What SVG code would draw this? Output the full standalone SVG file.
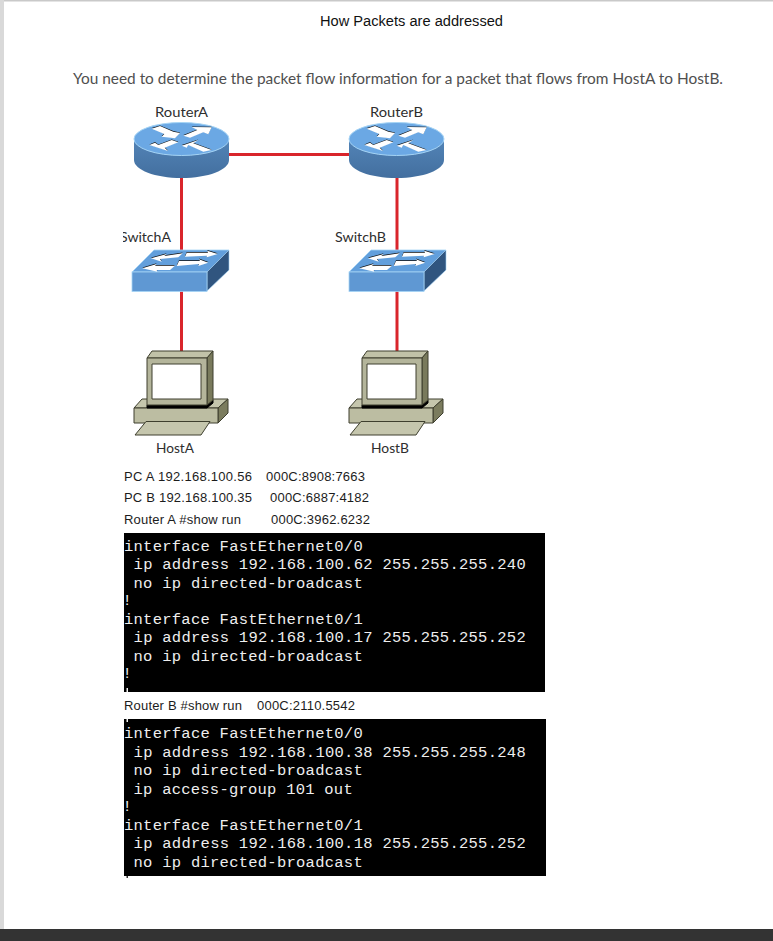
<svg xmlns="http://www.w3.org/2000/svg" xmlns:xlink="http://www.w3.org/1999/xlink" width="773" height="941" viewBox="0 0 773 941">
<style>
.ar{font-family:"Liberation Sans",Arial,sans-serif;font-size:13px;fill:#1c1c1c}
.lb{font-family:Lato,"Open Sans",sans-serif;font-size:13.5px;fill:#2e2e2e}
.mono{font-family:"Liberation Mono","Courier New",monospace;font-size:15.5px;fill:#eeeeee;white-space:pre;letter-spacing:.3px}
.link{stroke:#d9252b;stroke-width:3;fill:none}
.tick{fill:#f2f2f2}
.pc{stroke:#3e3f2e;stroke-width:1;stroke-linejoin:round}
</style>
<defs>
<linearGradient id="body" x1="0" x2="0" y1="0" y2="1"><stop offset="0" stop-color="#5283b6"/><stop offset="1" stop-color="#436f9f"/></linearGradient>
<clipPath id="clipSw"><rect x="123" y="220" width="70" height="30"/></clipPath>
<g id="rArrows">
<path d="M151.700 128.700L160 126 173.300 131.700 180 133 175 138.300 161.700 136.700 164.300 134Z"/>
<path d="M211.700 127.300L191.700 127 197.300 130 183.300 135.700 190 137.700 203.300 132.300 208.300 134.300Z"/>
<path d="M149.300 145L168 151 164.700 147.700 178.300 142.300 171.700 140 158.300 145 155 142.700Z"/>
<path d="M181.700 145.700L198.300 140 193.300 143.300 211.700 150 203.300 151.700 188.300 145 186.700 147.700Z"/>
</g>
<g id="sArrows">
<path d="M151 258.300L166.700 254 164.300 256 182.700 253.300 178.300 257.300 160 259 161.700 261.700Z"/>
<path d="M186.700 252.700H208L207.300 250.700 217.700 254 206.700 257.300V255.700L185 256.700Z"/>
<path d="M142.300 268.300L156.700 264 155 265.700H175L170 270H156.700L157.300 271.700Z"/>
<path d="M176.700 266L179 261H200L199 259.300 208.300 262.700 198.300 266 199 264Z"/>
</g>
<g id="routerIcon">
<path d="M134 140V160C134 170 155 178 181.500 178C208 178 229 170 229 160V140Z" fill="url(#body)"/>
<ellipse cx="181.500" cy="139" rx="47.500" ry="16.500" fill="#6ba8e4" stroke="#a5d4f5" stroke-width="1"/>
<use href="#rArrows" xlink:href="#rArrows" fill="#111" transform="translate(0 -.6)"/>
<use href="#rArrows" xlink:href="#rArrows" fill="#fff"/>
</g>
<g id="switchIcon">
<path d="M132 272L154 250H229L207 272Z" fill="#629fdc" stroke="#a5d4f5" stroke-width=".8"/>
<path d="M207 272L229 250V270L207 291Z" fill="#30557f" stroke="#a5d4f5" stroke-width=".6"/>
<rect x="132" y="272" width="75" height="19.500" fill="#5f98d3" stroke="#a5d4f5" stroke-width=".8"/>
<use href="#sArrows" xlink:href="#sArrows" fill="#111" transform="translate(0 -.7)"/>
<use href="#sArrows" xlink:href="#sArrows" fill="#fff"/>
</g>
<g id="pcIcon" class="pc">
<path d="M134 408L142 399H228L218 408Z" fill="#c5c6ad"/>
<path d="M218 408L228 399V413L218 423Z" fill="#7b7c5e"/>
<rect x="134" y="408" width="84" height="15" fill="#bcbda2"/>
<path d="M135 435L146 421.500H210L201 435Z" fill="#c5c6ad"/>
<path d="M147 405H207L213 400V403L207 408H147Z" fill="#000" stroke="#000"/>
<path d="M147 358L152 351H213L207 358Z" fill="#c1c2a8"/>
<path d="M207 358L213 351V400L207 405Z" fill="#797a5c"/>
<rect x="147" y="358" width="60" height="47" fill="#b4b59b"/>
<rect x="152" y="364" width="49" height="35" fill="#fff"/>
</g>
</defs>
<rect id="page" width="773" height="941" fill="#fff"/>
<rect x="0" y="0" width="773" height="1.500" fill="#c9c9c9"/>
<rect x="0" y="0" width="4" height="929" fill="#d9d9d9"/>
<rect x="0" y="929" width="773" height="12" fill="#333"/>
<text id="title" x="320" y="25.500" textLength="183" lengthAdjust="spacingAndGlyphs" style="font-family:'Liberation Sans',Arial,sans-serif;font-size:14px;fill:#111">How Packets are addressed</text>
<text id="question" x="73" y="84" textLength="650" lengthAdjust="spacingAndGlyphs" style="font-family:Lato,'Open Sans',sans-serif;font-size:16px;fill:#4f4f4f">You need to determine the packet flow information for a packet that flows from HostA to HostB.</text>
<g id="connectors">
<path class="link" d="M229 154.500H349"/>
<path class="link" d="M181.500 178V251"/>
<path class="link" d="M181.500 291V351"/>
<path class="link" d="M397 178V251"/>
<path class="link" d="M397 291V351"/>
</g>
<g id="RouterA"><use xlink:href="#routerIcon" href="#routerIcon"/><text class="lb" x="155" y="116.500" textLength="53" lengthAdjust="spacingAndGlyphs">RouterA</text></g>
<g id="RouterB"><use xlink:href="#routerIcon" href="#routerIcon" x="215"/><text class="lb" x="370" y="116.500" textLength="53" lengthAdjust="spacingAndGlyphs">RouterB</text></g>
<g id="SwitchA"><use xlink:href="#switchIcon" href="#switchIcon"/><g clip-path="url(#clipSw)"><text class="lb" x="120" y="242" textLength="51" lengthAdjust="spacingAndGlyphs">SwitchA</text></g></g>
<g id="SwitchB"><use xlink:href="#switchIcon" href="#switchIcon" x="217"/><text class="lb" x="335" y="242" textLength="51" lengthAdjust="spacingAndGlyphs">SwitchB</text></g>
<g id="HostA"><use xlink:href="#pcIcon" href="#pcIcon"/><text class="lb" x="156" y="452.500" textLength="38" lengthAdjust="spacingAndGlyphs">HostA</text></g>
<g id="HostB"><use xlink:href="#pcIcon" href="#pcIcon" x="215"/><text class="lb" x="371" y="452.500" textLength="38" lengthAdjust="spacingAndGlyphs">HostB</text></g>
<g id="notes">
<text class="ar" x="124" y="481" textLength="128">PC A 192.168.100.56</text><text class="ar" x="266" y="481" textLength="99">000C:8908:7663</text>
<text class="ar" x="124" y="502" textLength="128">PC B 192.168.100.35</text><text class="ar" x="270" y="502" textLength="99">000C:6887:4182</text>
<text class="ar" x="124" y="524" textLength="117">Router A #show run</text><text class="ar" x="271" y="524" textLength="99">000C:3962.6232</text>
<text class="ar" x="124" y="710" textLength="118">Router B #show run</text><text class="ar" x="257" y="710" textLength="98">000C:2110.5542</text>
</g>
<g id="configA">
<rect x="124" y="533" width="421" height="159" fill="#000"/>
<text class="mono" x="124" y="551" textLength="239">interface FastEthernet0/0</text>
<text class="mono" x="124" y="569" textLength="402"> ip address 192.168.100.62 255.255.255.240</text>
<text class="mono" x="124" y="588" textLength="239"> no ip directed-broadcast</text>
<text class="mono" x="122.500" y="605">!</text>
<text class="mono" x="124" y="624" textLength="239">interface FastEthernet0/1</text>
<text class="mono" x="124" y="642" textLength="402"> ip address 192.168.100.17 255.255.255.252</text>
<text class="mono" x="124" y="661" textLength="239"> no ip directed-broadcast</text>
<text class="mono" x="122.500" y="678">!</text>
<rect class="tick" x="126.500" y="688" width="1.500" height="4"/>
</g>
<g id="configB">
<rect x="124" y="719" width="422" height="157" fill="#000"/>
<rect class="tick" x="126.500" y="719" width="1.500" height="3"/>
<text class="mono" x="124" y="738" textLength="239">interface FastEthernet0/0</text>
<text class="mono" x="124" y="757" textLength="402"> ip address 192.168.100.38 255.255.255.248</text>
<text class="mono" x="124" y="775" textLength="239"> no ip directed-broadcast</text>
<text class="mono" x="124" y="794" textLength="229"> ip access-group 101 out</text>
<text class="mono" x="122.500" y="811">!</text>
<text class="mono" x="124" y="830" textLength="239">interface FastEthernet0/1</text>
<text class="mono" x="124" y="848" textLength="402"> ip address 192.168.100.18 255.255.255.252</text>
<text class="mono" x="124" y="867" textLength="239"> no ip directed-broadcast</text>
<rect x="126.500" y="876" width="1.500" height="2" fill="#333"/>
</g>
</svg>
